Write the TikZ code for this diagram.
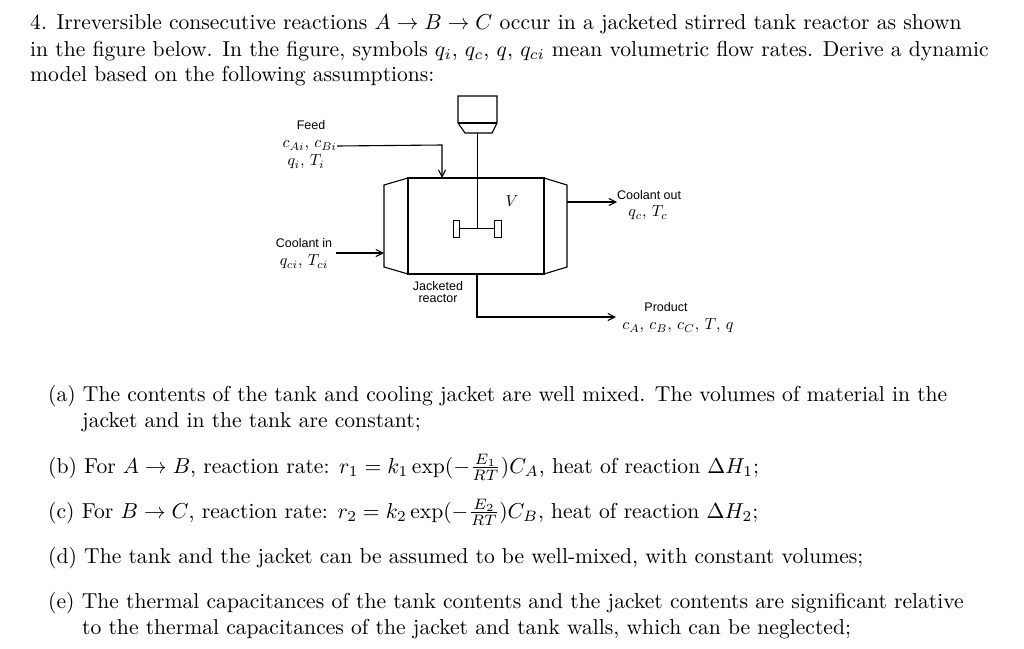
\documentclass[tikz,border=0pt]{standalone}
\usepackage{fontspec}
\newfontfamily\dsf{Liberation Sans}
\usetikzlibrary{arrows.meta}
\newcommand{\bigt}[1]{\scalebox{2.16}{#1}}
\newcommand{\smm}[1]{\scalebox{1.6}{#1}}
\begin{document}
\begin{tikzpicture}[x=1pt,y=-1pt,
  txt/.style={anchor=base west,inner sep=0},
  lab/.style={inner sep=0,font=\dsf\fontsize{12.5}{14}\selectfont},
  mlab/.style={inner sep=0},
  ln/.style={line width=1.1pt},
  arr/.style={line width=1.1pt,-{Straight Barb[length=7pt,width=7pt]}}]
\useasboundingbox (0,0) rectangle (1024,648);
% text
\node[txt] (t1) at (30,29) {\bigt{4. Irreversible consecutive reactions $A\to B\to C$ occur in a jacketed stirred tank reactor as shown}};
\node[txt] (t2) at (30,56) {\bigt{in the figure below. In the figure, symbols $q_i$, $q_c$, $q$, $q_{ci}$ mean volumetric flow rates. Derive a dynamic}};
\node[txt] (t3) at (30,81) {\bigt{model based on the following assumptions:}};
\node[txt] (a1) at (48,401) {\bigt{(a) The contents of the tank and cooling jacket are well mixed. The volumes of material in the}};
\node[txt] (a2) at (82,427) {\bigt{jacket and in the tank are constant;}};
\node[txt] (b1) at (48,473) {\bigt{(b) For $A\to B$, reaction rate: $r_1=k_1\exp(-\frac{E_1}{RT})C_A$, heat of reaction $\Delta H_1$;}};
\node[txt] (c1) at (48,518) {\bigt{(c) For $B\to C$, reaction rate: $r_2=k_2\exp(-\frac{E_2}{RT})C_B$, heat of reaction $\Delta H_2$;}};
\node[txt] (d1) at (48,563) {\bigt{(d) The tank and the jacket can be assumed to be well-mixed, with constant volumes;}};
\node[txt] (e1) at (48,608) {\bigt{(e) The thermal capacitances of the tank contents and the jacket contents are significant relative}};
\node[txt] (e2) at (82,634) {\bigt{to the thermal capacitances of the jacket and tank walls, which can be neglected;}};
% reactor
\draw[ln] (408,178) rectangle (544,274);
\draw[ln] (408,178) -- (384,185) -- (384,267) -- (408,274);
\draw[ln] (544,178) -- (567,185) -- (567,267) -- (544,274);
\draw[ln] (458,96) -- (497,96) -- (497,123) -- (492,133) -- (465,133) -- (458,123) -- cycle;
\draw[ln] (458,123) -- (497,123);
\draw[line width=0.8pt] (477,133) -- (477,228);
\draw[line width=0.8pt] (459,228) -- (494,228);
\draw[line width=0.8pt] (453,220) rectangle (459,237);
\draw[line width=0.8pt] (494,220) rectangle (501,237);
\node[mlab] (V) at (512,201) {\smm{$V$}};
% labels
\node[lab] (feed) at (311,125) {Feed};
\node[mlab,anchor=east] (fc) at (337,146) {\smm{$c_{Ai}$, $c_{Bi}$}};
\node[mlab] (fq) at (306,162) {\smm{$q_i$, $T_i$}};
\node[lab,anchor=west] (cout) at (617,195) {Coolant out};
\node[mlab] (coutq) at (648,213) {\smm{$q_c$, $T_c$}};
\node[lab] (cin) at (304,243) {Coolant in};
\node[mlab] (cinq) at (304,262) {\smm{$q_{ci}$, $T_{ci}$}};
\node[lab,align=center] (jr) at (438,292) {Jacketed\\[-2pt]reactor};
\node[lab] (prod) at (666,307) {Product};
\node[mlab] (prodc) at (678,326) {\smm{$c_A$, $c_B$, $c_C$, $T$, $q$}};
\coordinate (f1) at (442,145); \coordinate (f2) at (442,178);
\draw[arr] (fc.east) -- (f1) -- (f2);
\coordinate (ci) at (384,253);
\draw[arr] (336,253) -- (ci);
\coordinate (co1) at (567,202); \coordinate (co2) at (617,202);
\draw[arr] (co1) -- (co2);
\coordinate (p1) at (477,274); \coordinate (p2) at (477,317); \coordinate (p3) at (616,317);
\draw[arr] (p1) -- (p2) -- (p3);
\end{tikzpicture}
\end{document}
